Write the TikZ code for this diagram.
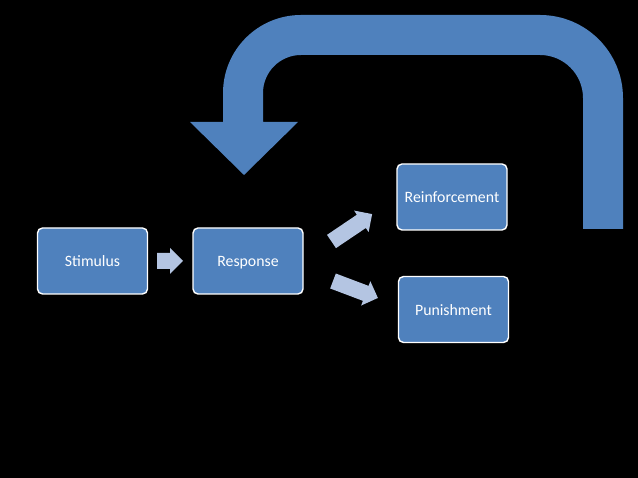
\documentclass[tikz,border=0pt]{standalone}
\usepackage{fontspec}
\setmainfont{Carlito}
\definecolor{boxblue}{HTML}{4F81BD}
\definecolor{lightarrow}{HTML}{B4C5E2}
\begin{document}
\begin{tikzpicture}[x=1pt,y=1pt,
  box/.style={draw=white, line width=1.4pt, fill=boxblue, rounded corners=5pt,
    minimum width=110pt, minimum height=66pt, text=white,
    font=\fontsize{15.8}{18}\selectfont, inner sep=0pt,
    text height=13pt, text depth=1pt},
  pics/fatarrow/.style={code={
    \fill[lightarrow] (0,-8) -- ({#1-13},-8) -- ({#1-13},-13) -- (#1,0)
      -- ({#1-13},13) -- ({#1-13},8) -- (0,8) -- cycle;}}]
\fill[black] (0,0) rectangle (638,478);
\useasboundingbox (0,0) rectangle (638,478);

% big feedback arrow
\fill[boxblue] (623,249) -- (623,380) arc[start angle=0,end angle=90,radius=83]
  -- (301,463) arc[start angle=90,end angle=180,radius=78]
  -- (223,356) -- (190,356) -- (244,303) -- (298,356) -- (263,356)
  -- (263,385) arc[start angle=180,end angle=90,radius=38]
  -- (540,423) arc[start angle=90,end angle=0,radius=43]
  -- (583,249) -- cycle;

\node[box] (stim) at (92.5,217) {Stimulus};
\node[box] (resp) at (248,217) {Response};
\node[box] (reinf) at (452,281) {Reinforcement};
\node[box] (pun) at (453.5,168.5) {Punishment};

\pic at (157,217) {fatarrow=26};
\pic[rotate=34] at (331.5,236.5) {fatarrow=49};
\pic[rotate=-20.7] at (333,197) {fatarrow=48};
\end{tikzpicture}
\end{document}
